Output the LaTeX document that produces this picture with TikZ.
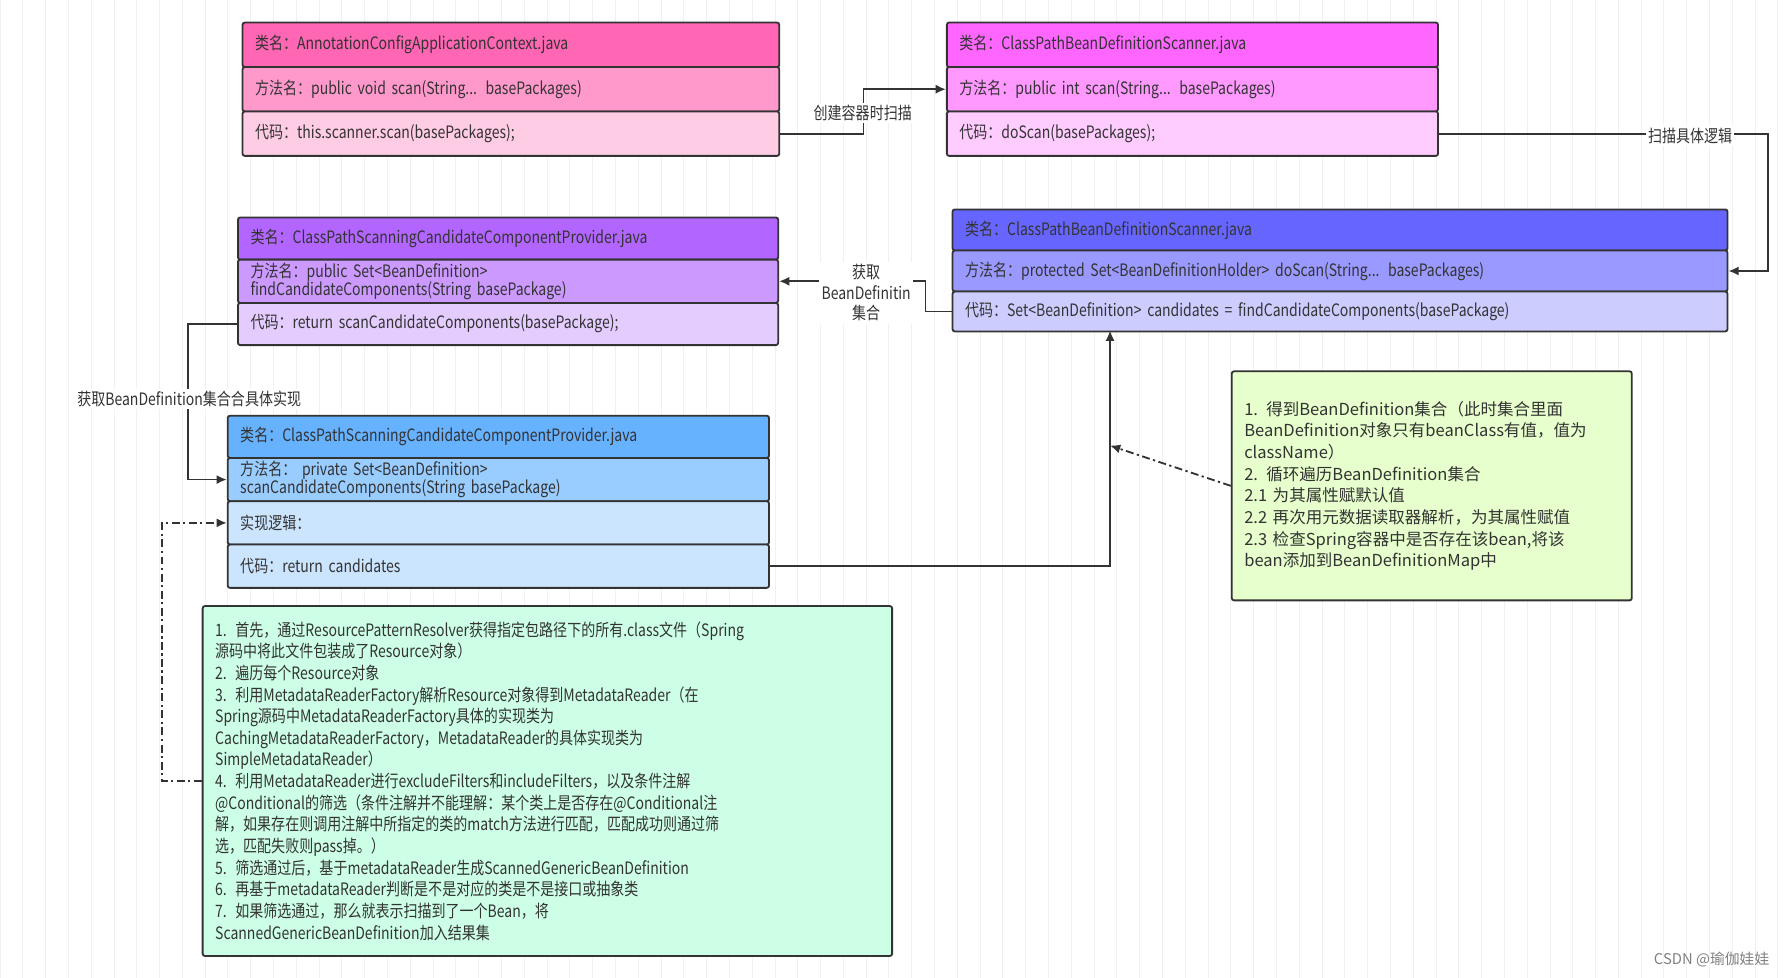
\documentclass[tikz,border=0pt]{standalone}
\usepackage{fontspec}
\setmainfont{Noto Sans CJK SC}
\newfontfamily\condfont[FakeStretch=0.82]{Noto Sans CJK SC}
\usetikzlibrary{arrows.meta}
\definecolor{pkA}{HTML}{FF66B3}\definecolor{pkB}{HTML}{FF99CC}\definecolor{pkC}{HTML}{FFCCE6}
\definecolor{mgA}{HTML}{FF66FF}\definecolor{mgB}{HTML}{FF99FF}\definecolor{mgC}{HTML}{FFCCFF}
\definecolor{inA}{HTML}{6666FF}\definecolor{inB}{HTML}{9999FF}\definecolor{inC}{HTML}{CCCCFF}
\definecolor{puA}{HTML}{B266FF}\definecolor{puB}{HTML}{CC99FF}\definecolor{puC}{HTML}{E5CCFF}
\definecolor{blA}{HTML}{66B2FF}\definecolor{blB}{HTML}{99CCFF}\definecolor{blC}{HTML}{CCE5FF}
\definecolor{noteF}{HTML}{E6FFCC}\definecolor{noteG}{HTML}{CCFFE6}
\definecolor{ink}{HTML}{333333}

\begin{document}
\begin{tikzpicture}[x=1pt,y=-1pt,>={Latex[length=9pt,width=8pt]},
  row/.style={draw=ink,line width=1.6pt,rounded corners=2pt,anchor=north west,
    inner xsep=11pt,align=left,text=ink,font=\condfont\fontsize{15}{16}\selectfont},
  note/.style={row,anchor=north west,align=left,inner ysep=6pt,font=\condfont\fontsize{15}{19}\selectfont},
  link/.style={->,draw=ink,line width=1.6pt},
  hint/.style={->,draw=ink,line width=1.6pt,dash pattern=on 7pt off 3pt on 2pt off 3pt},
  tag/.style={fill=white,text=ink,align=center,inner sep=2pt,font=\condfont\fontsize{15}{18}\selectfont}]
\useasboundingbox (0,0) rectangle (1568,858);
\draw[gray!12,line width=0.8pt] (0,0) grid[step=20] (1568,858);

% AnnotationConfigApplicationContext
\node[row,fill=pkA,minimum width=471,minimum height=39,text width=449] (a1) at (212,19) {类名：AnnotationConfigApplicationContext.java};
\node[row,fill=pkB,minimum width=471,minimum height=39,text width=449] (a2) at (212,58) {方法名：public void scan(String... basePackages)};
\node[row,fill=pkC,minimum width=471,minimum height=39,text width=449] (a3) at (212,97) {代码：this.scanner.scan(basePackages);};

% ClassPathBeanDefinitionScanner (scan)
\node[row,fill=mgA,minimum width=431,minimum height=39,text width=409] (b1) at (830,19) {类名：ClassPathBeanDefinitionScanner.java};
\node[row,fill=mgB,minimum width=431,minimum height=39,text width=409] (b2) at (830,58) {方法名：public int scan(String... basePackages)};
\node[row,fill=mgC,minimum width=431,minimum height=39,text width=409] (b3) at (830,97) {代码：doScan(basePackages);};

% ClassPathBeanDefinitionScanner (doScan)
\node[row,fill=inA,minimum width=680,minimum height=36,text width=658] (c1) at (835,183) {类名：ClassPathBeanDefinitionScanner.java};
\node[row,fill=inB,minimum width=680,minimum height=36,text width=658] (c2) at (835,219) {方法名：protected Set<BeanDefinitionHolder> doScan(String... basePackages)};
\node[row,fill=inC,minimum width=680,minimum height=35,text width=658] (c3) at (835,255) {代码：Set<BeanDefinition> candidates = findCandidateComponents(basePackage)};

% findCandidateComponents
\node[row,fill=puA,minimum width=474,minimum height=37,text width=452] (d1) at (208,190) {类名：ClassPathScanningCandidateComponentProvider.java};
\node[row,fill=puB,minimum width=474,minimum height=38,text width=452,inner ysep=1pt] (d2) at (208,227) {方法名：public Set<BeanDefinition>\\findCandidateComponents(String basePackage)};
\node[row,fill=puC,minimum width=474,minimum height=37,text width=452] (d3) at (208,265) {代码：return scanCandidateComponents(basePackage);};

% scanCandidateComponents
\node[row,fill=blA,minimum width=475,minimum height=37,text width=453] (e1) at (199,364) {类名：ClassPathScanningCandidateComponentProvider.java};
\node[row,fill=blB,minimum width=475,minimum height=38,text width=453,inner ysep=1pt] (e2) at (199,401) {方法名：\ private Set<BeanDefinition>\\scanCandidateComponents(String basePackage)};
\node[row,fill=blC,minimum width=475,minimum height=38,text width=453] (e3) at (199,439) {实现逻辑：};
\node[row,fill=blC,minimum width=475,minimum height=38,text width=453] (e4) at (199,477) {代码：return candidates};

% notes
\node[note,fill=noteF,minimum width=351,minimum height=201,text width=329,anchor=north west,
  font=\fontsize{14.5}{19}\selectfont] (f) at (1080,325) {%
1. 得到BeanDefinition集合（此时集合里面\\BeanDefinition对象只有beanClass有值，值为\\className）\\2. 循环遍历BeanDefinition集合\\2.1 为其属性赋默认值\\2.2 再次用元数据读取器解析，为其属性赋值\\2.3 检查Spring容器中是否存在该bean,将该\\bean添加到BeanDefinitionMap中\\[38pt]};
\node[note,fill=noteG,minimum width=605,minimum height=307,text width=583] (g) at (177,531) {%
1. 首先，通过ResourcePatternResolver获得指定包路径下的所有.class文件（Spring\\源码中将此文件包装成了Resource对象）\\2. 遍历每个Resource对象\\3. 利用MetadataReaderFactory解析Resource对象得到MetadataReader（在\\Spring源码中MetadataReaderFactory具体的实现类为\\CachingMetadataReaderFactory，MetadataReader的具体实现类为\\SimpleMetadataReader）\\4. 利用MetadataReader进行excludeFilters和includeFilters，以及条件注解\\@Conditional的筛选（条件注解并不能理解：某个类上是否存在@Conditional注\\解，如果存在则调用注解中所指定的类的match方法进行匹配，匹配成功则通过筛\\选，匹配失败则pass掉。）\\5. 筛选通过后，基于metadataReader生成ScannedGenericBeanDefinition\\6. 再基于metadataReader判断是不是对应的类是不是接口或抽象类\\7. 如果筛选通过，那么就表示扫描到了一个Bean，将\\ScannedGenericBeanDefinition加入结果集};

% connectors
\coordinate (cin) at (974,290);
\coordinate (fin) at (974,391);
\draw[link] (a3.east) -- ++(73,0) |- (b2.west);
\draw[link] (b3.east) -- ++(289,0) |- (c2.east);
\draw[link] (c3.west) -- ++(-23,0) |- (d2.east);
\draw[link] (d3.west) -- ++(-43,0) |- (e2.west);
\draw[link] (e4.east) -| (cin);
\draw[hint] (f.west) -- (fin);
\draw[hint] (g.west) -- ++(-35,0) |- (e3.west);

% labels
\node[tag] (t1) at (757,99) {创建容器时扫描};
\node[tag] (t2) at (1483,119) {扫描具体逻辑};
\node[tag] (t3) at (760,257) {获取\\BeanDefinitin\\集合};
\node[tag] (t4) at (166,350) {获取BeanDefinition集合合具体实现};
\node[text=gray,font=\fontsize{13}{14}\selectfont,anchor=east] (wm) at (1556,842) {CSDN @瑜伽娃娃};
\end{tikzpicture}
\end{document}
